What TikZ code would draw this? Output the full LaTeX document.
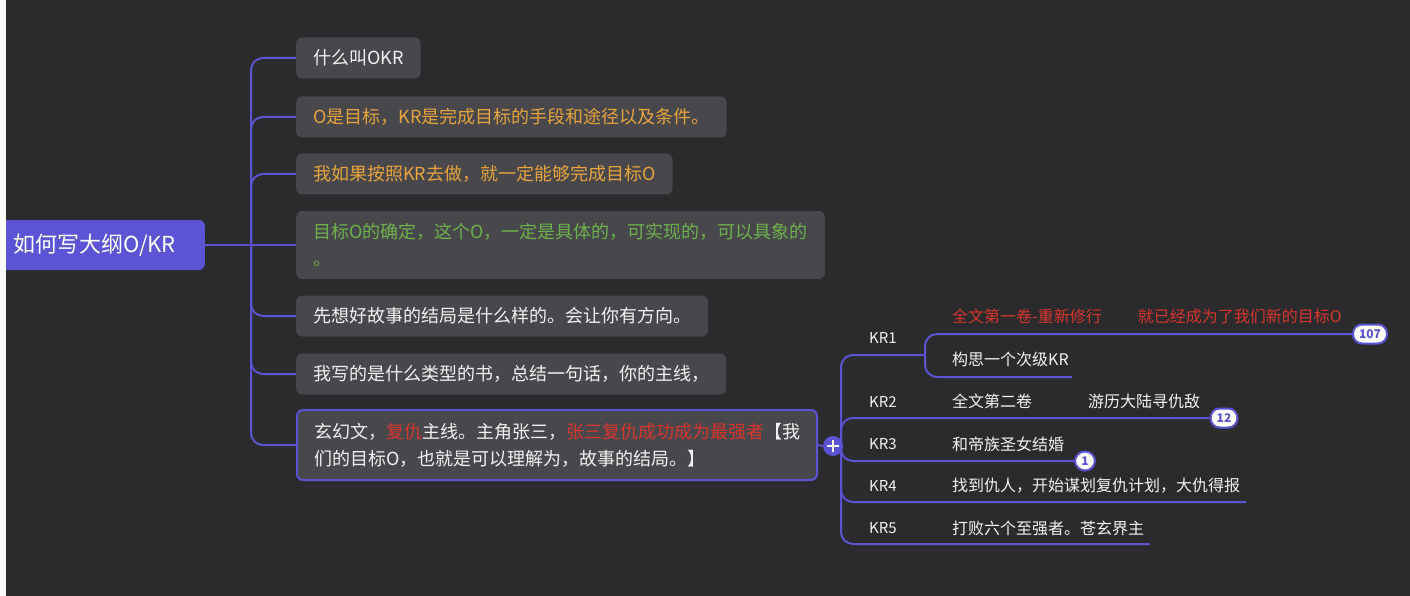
\documentclass[tikz,border=0pt]{standalone}
\usepackage{fontspec}
\setmainfont{Noto Sans CJK SC}
\usetikzlibrary{positioning}

\definecolor{bgc}{HTML}{2B2B2D}
\definecolor{boxc}{HTML}{48474C}
\definecolor{linec}{HTML}{5A54D2}
\definecolor{rootc}{HTML}{5B55D6}
\definecolor{orangec}{HTML}{E8A43C}
\definecolor{greenc}{HTML}{6DB24A}
\definecolor{redc}{HTML}{D8352D}
\definecolor{textc}{HTML}{F2F2F2}

\tikzset{
  topic/.style={fill=boxc, rounded corners=6pt, anchor=west, inner xsep=17pt, inner ysep=0pt,
    minimum height=41pt, text=textc, font=\fontsize{18}{27}\selectfont, align=left},
  conn/.style={draw=linec, line width=2pt, rounded corners=12pt},
  krlab/.style={anchor=west, inner sep=0pt, text=textc, font=\fontsize{15}{15}\selectfont},
  krtext/.style={anchor=west, inner sep=0pt, text=textc, font=\fontsize{16}{16}\selectfont},
  badge/.style={fill=white, draw=linec, line width=2pt, rounded corners=9pt, text=linec,
    font=\bfseries\fontsize{12}{12}\selectfont, inner xsep=6pt, inner ysep=0pt, minimum height=19pt}
}

\begin{document}
\begin{tikzpicture}[x=1pt, y=-1pt]
  \useasboundingbox (0,0) rectangle (1410,596);
  \fill[bgc] (0,0) rectangle (1410,596);

  % root
  \node[fill=rootc, rounded corners=6pt, anchor=east, inner xsep=29pt, minimum height=50pt,
    text=white, font=\fontsize{22}{22}\selectfont] (root) at (205,245) {如何写大纲O/KR};

  % first level
  \node[topic] (c1) at (296,58) {什么叫OKR};
  \node[topic, text=orangec] (c2) at (296,117) {O是目标，KR是完成目标的手段和途径以及条件。};
  \node[topic, text=orangec] (c3) at (296,174) {我如果按照KR去做，就一定能够完成目标O};
  \node[topic, text=greenc, minimum height=68pt] (c4) at (296,245)
    {目标O的确定，这个O，一定是具体的，可实现的，可以具象的\\。};
  \node[topic] (c5) at (296,316) {先想好故事的结局是什么样的。会让你有方向。};
  \node[topic] (c6) at (296,374) {我写的是什么类型的书，总结一句话，你的主线，};
  \node[topic, draw=linec, line width=2pt, minimum height=70pt] (c7) at (296,445)
    {玄幻文，\textcolor{redc}{复仇}主线。主角张三，\textcolor{redc}{张三复仇成功成为最强者}【我\\们的目标O，也就是可以理解为，故事的结局。】};

  \coordinate (fork) at (251,245);
  \draw[conn] (root.east) -- (c4.west);
  \foreach \c in {c1,c2,c3,c5,c6,c7}
    \draw[conn] (fork) |- (\c.west);

  % KR branch
  \node[krlab] (kr1) at (869,338) {KR1};
  \node[krtext, text=redc] (kr1a) at (952,316) {全文第一卷-重新修行\hspace{36pt}就已经成为了我们新的目标O};
  \node[krtext] (kr1b) at (952,359) {构思一个次级KR};
  \node[krlab] (kr2) at (869,402) {KR2};
  \node[krtext] (kr2t) at (952,401) {全文第二卷\hspace{56pt}游历大陆寻仇敌};
  \node[krlab] (kr3) at (869,444) {KR3};
  \node[krtext] (kr3t) at (952,444) {和帝族圣女结婚};
  \node[krlab] (kr4) at (869,486) {KR4};
  \node[krtext] (kr4t) at (952,486) {找到仇人，开始谋划复仇计划，大仇得报};
  \node[krlab] (kr5) at (869,528) {KR5};
  \node[krtext] (kr5t) at (952,528) {打败六个至强者。苍玄界主};

  \node[badge] (b1) at (1370,334) {107};
  \node[badge] (b2) at (1224,418) {12};
  \node[badge, minimum width=20pt, rounded corners=10pt, inner xsep=0pt] (b3) at (1085,461) {1};

  \coordinate (kfork) at (841,446);
  \coordinate (kr1end) at (925,355);
  \coordinate (kr1low) at (1072,377);
  \coordinate (kr4end) at (1246,502);
  \coordinate (kr5end) at (1150,544);
  \draw[conn] (kfork) |- (kr1end);
  \draw[conn] (kr1end) |- (b1.west);
  \draw[conn] (kr1end) |- (kr1low);
  \draw[conn] (kfork) |- (b2.west);
  \draw[conn] (kfork) |- (b3.west);
  \draw[conn] (kfork) |- (kr4end);
  \draw[conn] (kfork) |- (kr5end);

  \node[circle, fill=linec, minimum size=20pt, inner sep=0pt] (plus) at (833,446) {};
  \draw[conn] (c7.east) -- (plus.west);
  \draw[white, line width=2pt] ([xshift=-6pt]plus.center) -- ([xshift=6pt]plus.center)
    ([yshift=-6pt]plus.center) -- ([yshift=6pt]plus.center);

  % left strip
  \fill[white!98!black] (0,0) rectangle (6,596);
\end{tikzpicture}
\end{document}
